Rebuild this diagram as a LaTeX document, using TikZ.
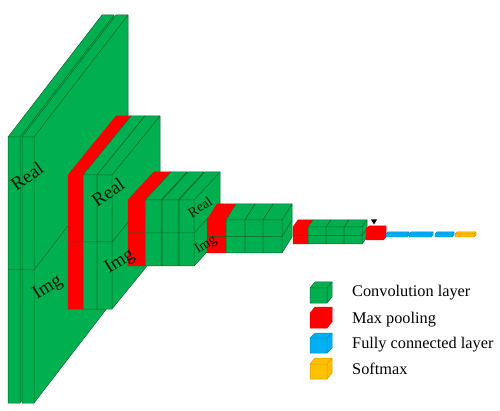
\documentclass[tikz,border=0pt]{standalone}
\usepackage{fontspec}
\setmainfont{Liberation Serif}
\definecolor{cg}{RGB}{0,176,80}
\definecolor{cgd}{RGB}{12,100,45}
\definecolor{cr}{RGB}{255,0,0}
\definecolor{cb}{RGB}{0,176,240}
\definecolor{cbd}{RGB}{0,140,205}
\definecolor{co}{RGB}{255,192,0}
\definecolor{cod}{RGB}{215,150,0}
% box: x y (front top-left), w h, dx dy (depth), fill, edge
\newcommand{\cub}[8]{%
  \filldraw[fill=#7,draw=#8,line width=0.5pt,line join=round]
    (#1,#2) -- ++(#5,-#6) -- ++(#3,0) -- ++(0,#4) -- ++(-#5,#6) -- ++(-#3,0) -- cycle;
  \draw[#8,line width=0.5pt] (#1,#2) -- ++(#3,0) -- ++(#5,-#6) (#1+#3,#2) -- ++(0,#4);
}
\tikzset{
  midline/.style={draw=cgd,line width=0.5pt},
  lab/.style={inner sep=0pt,text=black!90!green},
  legtext/.style={anchor=west,inner sep=0pt,font=\fontsize{16.3}{18}\selectfont}
}
\begin{document}
\begin{tikzpicture}[x=1pt,y=-1pt]
\useasboundingbox (0,0) rectangle (500,411);
% group 1
\cub{8}{137}{12}{266}{94}{122}{cg}{cgd}
\cub{22}{137}{12}{266}{94}{122}{cg}{cgd}
\path[midline] (8,270) -- (34,270) -- ++(94,-122);
% group 2
\cub{68}{175}{15}{134}{48}{59}{cr}{cr}
\cub{83}{175}{14}{134}{48}{59}{cg}{cgd}
\cub{97}{175}{15}{134}{48}{59}{cg}{cgd}
\path[midline] (68,242) -- (112,242) -- ++(48,-59);
% group 3
\cub{128}{200}{17}{66}{26}{28}{cr}{cr}
\cub{145}{200}{16}{66}{26}{28}{cg}{cgd}
\cub{162}{200}{16}{66}{26}{28}{cg}{cgd}
\cub{179}{200}{15}{66}{26}{28}{cg}{cgd}
\path[midline] (128,233) -- (194,233) -- ++(26,-28);
% group 4
\cub{207}{220}{19}{33}{10}{16}{cr}{cr}
\cub{226}{220}{19}{33}{10}{16}{cg}{cgd}
\cub{245}{220}{18}{33}{10}{16}{cg}{cgd}
\cub{263}{220}{19}{33}{10}{16}{cg}{cgd}
\path[midline] (207,236.5) -- (282,236.5) -- ++(10,-16);
% group 5
\cub{293}{227}{15}{17}{5}{7}{cr}{cr}
\cub{308}{227}{18}{17}{5}{7}{cg}{cgd}
\cub{326}{227}{18}{17}{5}{7}{cg}{cgd}
\cub{344}{227}{18}{17}{5}{7}{cg}{cgd}
\path[midline] (293,235.5) -- (362,235.5) -- ++(5,-7);
% group 6
\cub{366}{229}{17}{11}{3}{3}{cr}{cr}
\fill[black] (371,219.5) -- (377,219.5) -- (374,224.5) -- cycle;
\cub{386}{234}{21}{3}{2}{2}{cb}{cbd}
\cub{409}{234}{22}{3}{2}{2}{cb}{cbd}
\cub{435}{234}{17}{3}{2}{2}{cb}{cbd}
\cub{455}{234}{19}{3}{2}{2}{co}{cod}
% labels on the layers
\node[lab,rotate=35,font=\fontsize{19}{19}\selectfont] (r1) at (27,176) {Real};
\node[lab,rotate=32,font=\fontsize{19}{19}\selectfont] (i1) at (48,288) {Img};
\node[lab,rotate=35,font=\fontsize{19}{19}\selectfont] (r2) at (108,192) {Real};
\node[lab,rotate=32,font=\fontsize{19}{19}\selectfont] (i2) at (120,262) {Img};
\node[lab,rotate=33,font=\fontsize{14}{14}\selectfont] (r3) at (200,207) {Real};
\node[lab,rotate=32,font=\fontsize{14}{14}\selectfont] (i3) at (206,245) {Img};
% legend
\cub{310}{288}{17}{15}{5}{6}{cg}{cgd}
\cub{310}{313}{17}{15}{5}{6}{cr}{cr}
\cub{310}{338}{17}{15}{5}{5}{cb}{cbd}
\cub{310}{364}{17}{15}{5}{6}{co}{cod}
\node[legtext] (l1) at (352,293) {Convolution layer};
\node[legtext] (l2) at (352,320) {Max pooling};
\node[legtext] (l3) at (352,345) {Fully connected layer};
\node[legtext] (l4) at (352,369) {Softmax};
\end{tikzpicture}
\end{document}
